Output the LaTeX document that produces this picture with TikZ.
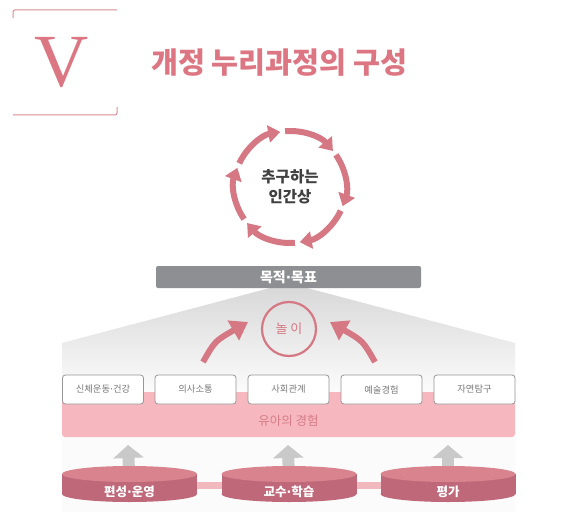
\documentclass[tikz,border=0pt]{standalone}
\usepackage{fontspec}
\setmainfont{Liberation Serif}
\newfontfamily\kr{Noto Sans CJK KR}
\newfontfamily\dv{DejaVu Sans}
\newcommand\md{{\dv ·}}
\usetikzlibrary{arrows.meta,calc}
\definecolor{pk}{RGB}{213,120,131}
\definecolor{titlepk}{RGB}{220,118,130}
\definecolor{framepk}{RGB}{214,140,150}
\definecolor{cyltop}{RGB}{217,131,143}
\definecolor{cylbody}{RGB}{190,104,121}
\definecolor{bandpk}{RGB}{246,184,190}
\definecolor{bandtxt}{RGB}{214,124,137}
\definecolor{linkpk}{RGB}{241,184,190}
\definecolor{bargray}{RGB}{142,143,147}
\definecolor{uparrow}{RGB}{201,201,201}
\definecolor{boxtxt}{RGB}{120,120,120}
\definecolor{boxline}{RGB}{150,150,150}
\definecolor{darktxt}{RGB}{64,64,64}
\newcommand\mycyl[1]{%
  \fill[cylbody] (#1-67.5,474) rectangle (#1+67.5,494);
  \fill[cylbody] (#1,494) ellipse[x radius=67.5, y radius=8];
  \fill[cyltop] (#1,474) ellipse[x radius=67.5, y radius=8];
}
\begin{document}
\begin{tikzpicture}[x=1pt,y=-1pt,
  cycarrow/.style={pk,line width=6pt,-{Triangle[width=17pt,length=12pt]}},
  playarrow/.style={pk,line width=6pt,-{Triangle[width=22pt,length=17pt]}},
  uparr/.style={uparrow,line width=12pt,-{Triangle[width=30pt,length=13pt]}},
  areabox/.style={draw=boxline,fill=white,line width=0.8pt,rounded corners=3pt,minimum width=81pt,minimum height=29pt,font=\kr\fontsize{9.3}{11}\selectfont,text=boxtxt,inner sep=0pt},
  cyltext/.style={font=\kr\bfseries\fontsize{12.5}{14}\selectfont,text=white,inner sep=0pt},
  cylnode/.style={minimum width=135pt,minimum height=36pt,inner sep=0pt},
  link/.style={linkpk,line width=7pt},
  framestyle/.style={framepk,line width=1pt,rounded corners=2pt}]
\useasboundingbox (0,0) rectangle (572,521);
\fill[white] (0,0) rectangle (572,521);
% header
\draw[framestyle] (13,18) -- (13,10) -- (117,10);
\draw[framestyle] (13,115) -- (117,115) -- (117,107);
\node[text=titlepk,font=\fontsize{75}{75}\selectfont,inner sep=0pt] (roman) at (62,63) {V};
\node[anchor=west,text=titlepk,font=\kr\bfseries\fontsize{29.3}{32}\selectfont,inner sep=0pt] (title) at (151,63) {개정 누리과정의 구성};
% cycle
\node[font=\kr\bfseries\fontsize{15.5}{20}\selectfont,text=darktxt,align=center] (goal) at (290,187) {추구하는\\인간상};
\foreach \t in {100,40,-20,-80,-140,160}{
  \draw[cycarrow] ($(goal.center)+({-\t-55}:56)$) arc[start angle={-\t-55}, end angle={-\t}, radius=56];
}
% background
\shade[top color=gray!30,bottom color=gray!3] (62,343) -- (270,288) -- (307,288) -- (515,343) -- (515,392) -- (62,392) -- cycle;
\fill[gray!3] (62,392) rectangle (515,512);
% goal bar
\node[fill=bargray,rounded corners=2pt,minimum width=265pt,minimum height=22pt,text=white,font=\kr\bfseries\fontsize{14}{16}\selectfont,inner sep=0pt] (goalbar) at (288.5,277) {목적\md 목표};
% play
\node[circle,draw=pk,line width=2.2pt,minimum size=54pt,inner sep=0pt,text=pk,font=\kr\fontsize{13}{15}\selectfont] (play) at (289,329) {놀 이};
\coordinate (la0) at (203,362);
\coordinate (la1) at (248,322);
\coordinate (ra0) at (375,362);
\coordinate (ra1) at (330,322);
\draw[playarrow] (la0) .. controls (215,341) .. (la1);
\draw[playarrow] (ra0) .. controls (363,341) .. (ra1);
% experience band
\node[fill=bandpk,rounded corners=3pt,minimum width=453pt,minimum height=45pt,inner sep=0pt] (band) at (288.5,414.5) {};
\node[text=bandtxt,font=\kr\fontsize{12.5}{14}\selectfont,inner sep=0pt] (bandlabel) at (288.5,421) {유아의 경험};
\node[areabox] (b1) at (103,389.5) {신체운동\md 건강};
\node[areabox] (b2) at (195.5,389.5) {의사소통};
\node[areabox] (b3) at (288.5,389.5) {사회관계};
\node[areabox] (b4) at (381.5,389.5) {예술경험};
\node[areabox] (b5) at (474.5,389.5) {자연탐구};
% cylinders
\node[cylnode] (c1) at (129.5,484) {};
\node[cylnode] (c2) at (289,484) {};
\node[cylnode] (c3) at (448,484) {};
\draw[link] ($(c1.center)+(0,1.5)$) -- ($(c2.center)+(0,1.5)$);
\draw[link] ($(c2.center)+(0,1.5)$) -- ($(c3.center)+(0,1.5)$);
\coordinate (u1) at (128,445);
\coordinate (u2) at (288,445);
\coordinate (u3) at (448,445);
\draw[uparr] (c1.center) -- (u1);
\draw[uparr] (c2.center) -- (u2);
\draw[uparr] (c3.center) -- (u3);
\mycyl{129.5}
\mycyl{289}
\mycyl{448}
\node[cyltext] (t1) at (129.5,492) {편성\md 운영};
\node[cyltext] (t2) at (289,492) {교수\md 학습};
\node[cyltext] (t3) at (448,492) {평가};
\end{tikzpicture}
\end{document}
